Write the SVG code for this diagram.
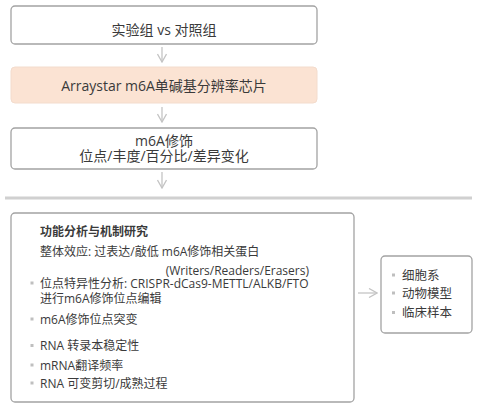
<svg xmlns="http://www.w3.org/2000/svg" width="480" height="418" viewBox="0 0 480 418">
<defs>
<style>
.box{fill:#ffffff;stroke:#a3a3a3;stroke-width:1.3}
.hl{fill:#fbe3d3;stroke:#f3dccd;stroke-width:1}
.t{font-family:"Open Sans","Noto Sans CJK SC",sans-serif;fill:#3a3a3a}
.c{text-anchor:middle;font-size:14px}
.s{font-size:12px}
.m{font-size:12.5px}
.b{font-weight:bold;font-size:12px}
.bul{fill:#bfbfbf}
.arr{stroke:#c4c4c4;stroke-width:1.3;fill:none}
</style>
<marker id="ah" viewBox="0 0 10 10" refX="9" refY="5" markerWidth="10" markerHeight="10" markerUnits="userSpaceOnUse" orient="auto">
<path d="M1,0.5 L9,5 L1,9.5" fill="none" stroke="#c4c4c4" stroke-width="1.3"/>
</marker>
</defs>
<rect width="480" height="418" fill="#ffffff"/>
<g id="connectors">
<line class="arr" x1="162" y1="47" x2="162" y2="62" marker-end="url(#ah)"/>
<line class="arr" x1="162" y1="107" x2="162" y2="122" marker-end="url(#ah)"/>
<line class="arr" x1="162" y1="172" x2="162" y2="188" marker-end="url(#ah)"/>
<line class="arr" x1="358" y1="293" x2="377" y2="293" marker-end="url(#ah)"/>
</g>
<g id="separator">
<line x1="5" y1="198" x2="472" y2="198" stroke="#d0d0d0" stroke-width="3"/>
</g>
<g id="node-groups">
<rect class="box" x="11" y="6" width="306" height="38" rx="4"/>
<text class="t c" x="164" y="35">实验组 vs 对照组</text>
</g>
<g id="node-chip">
<rect class="hl" x="11" y="67" width="306" height="36" rx="4"/>
<text class="t c" x="164" y="91">Arraystar m6A单碱基分辨率芯片</text>
</g>
<g id="node-m6a">
<rect class="box" x="11" y="128" width="306" height="41" rx="4"/>
<text class="t c" x="164" y="146">m6A修饰</text>
<text class="t c" x="164" y="161">位点/丰度/百分比/差异变化</text>
</g>
<g id="node-function">
<rect class="box" x="11" y="213" width="343" height="189" rx="4"/>
<text class="t b" x="40" y="235.5">功能分析与机制研究</text>
<text class="t s" x="40" y="256">整体效应: 过表达/敲低 m6A修饰相关蛋白</text>
<text class="t s" x="309" y="275" text-anchor="end">(Writers/Readers/Erasers)</text>
<rect class="bul" x="30.5" y="281.5" width="3" height="3"/>
<text class="t s" x="40" y="287.5">位点特异性分析: CRISPR-dCas9-METTL/ALKB/FTO</text>
<text class="t s" x="40" y="303">进行m6A修饰位点编辑</text>
<rect class="bul" x="30.5" y="317.5" width="3" height="3"/>
<text class="t s" x="40" y="323.5">m6A修饰位点突变</text>
<rect class="bul" x="30.5" y="344" width="3" height="3"/>
<text class="t s" x="40" y="350">RNA 转录本稳定性</text>
<rect class="bul" x="30.5" y="363.5" width="3" height="3"/>
<text class="t s" x="40" y="369.5">mRNA翻译频率</text>
<rect class="bul" x="30.5" y="381.5" width="3" height="3"/>
<text class="t s" x="40" y="387.5">RNA 可变剪切/成熟过程</text>
</g>
<g id="node-models">
<rect class="box" x="381" y="256" width="91" height="77" rx="4"/>
<rect class="bul" x="392" y="273.5" width="3" height="3"/>
<text class="t m" x="402" y="279.5">细胞系</text>
<rect class="bul" x="392" y="291.5" width="3" height="3"/>
<text class="t m" x="402" y="297.5">动物模型</text>
<rect class="bul" x="392" y="311" width="3" height="3"/>
<text class="t m" x="402" y="317">临床样本</text>
</g>
</svg>
